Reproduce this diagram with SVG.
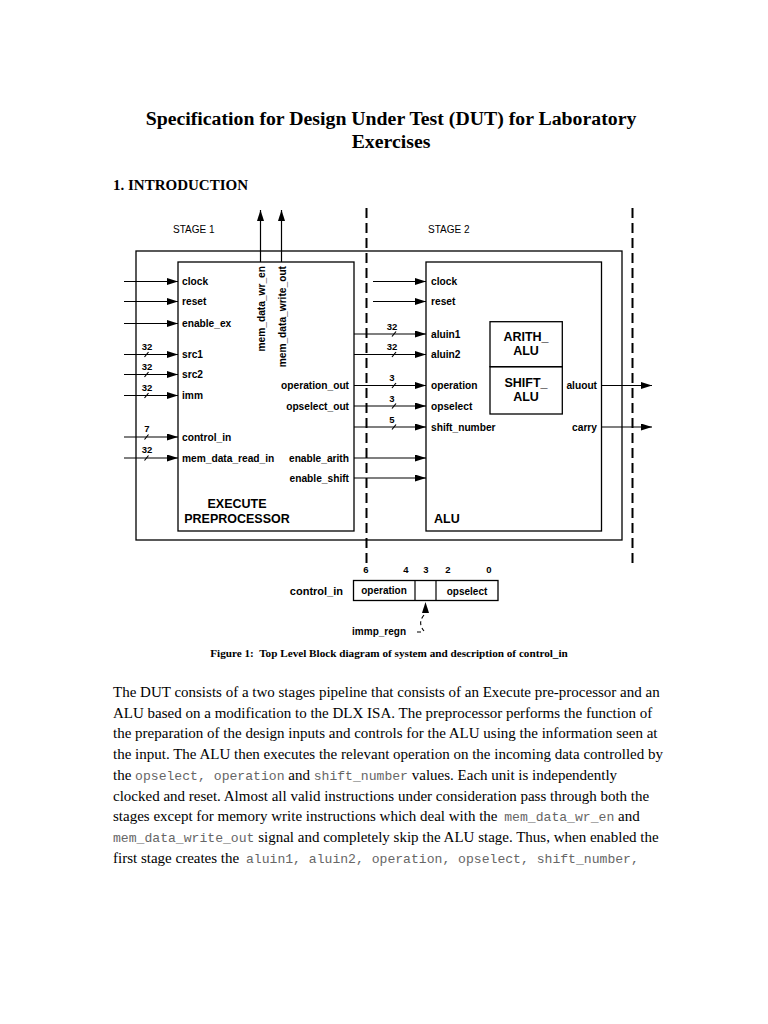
<svg xmlns="http://www.w3.org/2000/svg" width="768" height="1024" viewBox="0 0 768 1024">
<style>
.bg{fill:#fff}
.box{fill:none;stroke:#000;stroke-width:1.3}
.ln{stroke:#000;stroke-width:1.2;fill:none}
.dash{stroke:#000;stroke-width:2;stroke-dasharray:10 5;fill:none}
.lbl{font-family:"Liberation Sans",Arial,sans-serif;font-weight:bold;font-size:10.2px;fill:#000}
.big{font-family:"Liberation Sans",Arial,sans-serif;font-weight:bold;font-size:12.5px;fill:#000}
.stg{font-family:"Liberation Sans",Arial,sans-serif;font-size:10px;fill:#000}
.bus{font-family:"Liberation Sans",Arial,sans-serif;font-weight:bold;font-size:9.5px;fill:#000;text-anchor:middle}
.title{font-family:"Liberation Serif","Times New Roman",serif;font-weight:bold;font-size:19.8px;fill:#000;text-anchor:middle}
.h1{font-family:"Liberation Serif","Times New Roman",serif;font-weight:bold;font-size:15px;fill:#000}
.cap{font-family:"Liberation Serif","Times New Roman",serif;font-weight:bold;font-size:11.2px;fill:#000;text-anchor:middle}
.body{font-family:"Liberation Serif","Times New Roman",serif;font-size:15px;fill:#000}
.code{font-family:"Liberation Mono","Courier New",monospace;font-size:13.1px;fill:#666}
</style>
<defs>
<marker id="ah" markerUnits="userSpaceOnUse" markerWidth="11" markerHeight="7" refX="11" refY="3.5" orient="auto">
<path d="M0,0 L11,3.5 L0,7 z" fill="#000"/>
</marker>
</defs>
<rect class="bg" x="0" y="0" width="768" height="1024"/>

<g id="heading">
<text class="title" x="391" y="125">Specification for Design Under Test (DUT) for Laboratory</text>
<text class="title" x="391" y="148">Exercises</text>
<text class="h1" x="113" y="190">1. INTRODUCTION</text>
</g>

<g id="stage-labels">
<text class="stg" x="173" y="233">STAGE 1</text>
<text class="stg" x="428" y="233">STAGE 2</text>
</g>

<g id="outer-box">
<rect class="box" x="136" y="251" width="486" height="289"/>
</g>

<g id="execute-preprocessor">
<rect class="box" x="178" y="262" width="176" height="269"/>
<text class="lbl" x="182" y="285">clock</text>
<text class="lbl" x="182" y="305">reset</text>
<text class="lbl" x="182" y="327">enable_ex</text>
<text class="lbl" x="182" y="358">src1</text>
<text class="lbl" x="182" y="378">src2</text>
<text class="lbl" x="182" y="399">imm</text>
<text class="lbl" x="182" y="441">control_in</text>
<text class="lbl" x="182" y="462">mem_data_read_in</text>
<text class="lbl" x="349" y="389" text-anchor="end">operation_out</text>
<text class="lbl" x="349" y="410" text-anchor="end">opselect_out</text>
<text class="lbl" x="349" y="462" text-anchor="end">enable_arith</text>
<text class="lbl" x="349" y="482" text-anchor="end">enable_shift</text>
<text class="lbl" transform="translate(264.5,266) rotate(-90)" text-anchor="end">mem_data_wr_en</text>
<text class="lbl" transform="translate(285.5,266) rotate(-90)" text-anchor="end">mem_data_write_out</text>
<text class="big" x="237" y="508" text-anchor="middle">EXECUTE</text>
<text class="big" x="237" y="523" text-anchor="middle">PREPROCESSOR</text>
</g>

<g id="alu">
<rect class="box" x="426" y="262" width="175.5" height="269"/>
<text class="lbl" x="431" y="285">clock</text>
<text class="lbl" x="431" y="305">reset</text>
<text class="lbl" x="431" y="338">aluin1</text>
<text class="lbl" x="431" y="358">aluin2</text>
<text class="lbl" x="431" y="389">operation</text>
<text class="lbl" x="431" y="410">opselect</text>
<text class="lbl" x="431" y="431">shift_number</text>
<text class="lbl" x="597" y="389" text-anchor="end">aluout</text>
<text class="lbl" x="597" y="431" text-anchor="end">carry</text>
<text class="big" x="434" y="523">ALU</text>
</g>

<g id="arith-alu">
<rect class="box" x="490" y="321.7" width="72.3" height="45"/>
<text class="big" x="526" y="341" text-anchor="middle">ARITH_</text>
<text class="big" x="526" y="355" text-anchor="middle">ALU</text>
</g>

<g id="shift-alu">
<rect class="box" x="490" y="366.7" width="72.3" height="47.3"/>
<text class="big" x="526" y="386.5" text-anchor="middle">SHIFT_</text>
<text class="big" x="526" y="400.5" text-anchor="middle">ALU</text>
</g>

<g id="stage-dividers">
<line class="dash" x1="366.5" y1="208" x2="366.5" y2="563"/>
<line class="dash" x1="632.5" y1="208" x2="632.5" y2="563"/>
</g>

<g id="connectors">
<line class="ln" x1="124" y1="281.5" x2="178" y2="281.5" marker-end="url(#ah)"/>
<line class="ln" x1="124" y1="301.5" x2="178" y2="301.5" marker-end="url(#ah)"/>
<line class="ln" x1="124" y1="323.5" x2="178" y2="323.5" marker-end="url(#ah)"/>
<line class="ln" x1="124" y1="354.5" x2="178" y2="354.5" marker-end="url(#ah)"/>
<line class="ln" x1="124" y1="374.5" x2="178" y2="374.5" marker-end="url(#ah)"/>
<line class="ln" x1="124" y1="395.5" x2="178" y2="395.5" marker-end="url(#ah)"/>
<line class="ln" x1="124" y1="437" x2="178" y2="437" marker-end="url(#ah)"/>
<line class="ln" x1="124" y1="458" x2="178" y2="458" marker-end="url(#ah)"/>
<line class="ln" x1="260.5" y1="262" x2="260.5" y2="210" marker-end="url(#ah)"/>
<line class="ln" x1="281.5" y1="262" x2="281.5" y2="210" marker-end="url(#ah)"/>
<line class="ln" x1="373" y1="281.5" x2="426" y2="281.5" marker-end="url(#ah)"/>
<line class="ln" x1="373" y1="301.5" x2="426" y2="301.5" marker-end="url(#ah)"/>
<line class="ln" x1="354" y1="334" x2="426" y2="334" marker-end="url(#ah)"/>
<line class="ln" x1="354" y1="354.5" x2="426" y2="354.5" marker-end="url(#ah)"/>
<line class="ln" x1="354" y1="385.5" x2="426" y2="385.5" marker-end="url(#ah)"/>
<line class="ln" x1="354" y1="406" x2="426" y2="406" marker-end="url(#ah)"/>
<line class="ln" x1="354" y1="427" x2="426" y2="427" marker-end="url(#ah)"/>
<line class="ln" x1="354" y1="458" x2="426" y2="458" marker-end="url(#ah)"/>
<line class="ln" x1="354" y1="478" x2="426" y2="478" marker-end="url(#ah)"/>
<line class="ln" x1="601.5" y1="385.5" x2="652" y2="385.5" marker-end="url(#ah)"/>
<line class="ln" x1="601.5" y1="427" x2="652" y2="427" marker-end="url(#ah)"/>
</g>

<g id="bus-widths">
<path class="ln" d="M144.5,357 L148.5,352 M144.5,377 L148.5,372 M144.5,398 L148.5,393 M144.5,439.5 L148.5,434.5 M144.5,460.5 L148.5,455.5"/>
<text class="bus" x="147" y="350">32</text>
<text class="bus" x="147" y="370">32</text>
<text class="bus" x="147" y="391">32</text>
<text class="bus" x="147" y="432">7</text>
<text class="bus" x="147" y="453">32</text>
<path class="ln" d="M392,336.5 L396,331.5 M392,357 L396,352 M392,388 L396,383 M392,408.5 L396,403.5 M392,429.5 L396,424.5"/>
<text class="bus" x="392" y="330">32</text>
<text class="bus" x="392" y="350">32</text>
<text class="bus" x="392" y="381">3</text>
<text class="bus" x="392" y="402">3</text>
<text class="bus" x="392" y="423">5</text>
</g>

<g id="control-in-register">
<text class="lbl" x="343" y="594.5" text-anchor="end" style="font-size:11px">control_in</text>
<rect class="box" x="353.5" y="580.5" width="144.5" height="20"/>
<line class="ln" x1="415" y1="580.5" x2="415" y2="600.5"/>
<line class="ln" x1="436" y1="580.5" x2="436" y2="600.5"/>
<text class="lbl" x="384" y="594" text-anchor="middle" style="font-size:10px">operation</text>
<text class="lbl" x="467" y="594.5" text-anchor="middle" style="font-size:10px">opselect</text>
<text class="bus" x="366" y="573">6</text>
<text class="bus" x="406" y="573">4</text>
<text class="bus" x="426" y="573">3</text>
<text class="bus" x="448" y="573">2</text>
<text class="bus" x="489" y="573">0</text>
<path d="M425.5,602 L422,613 L429,613 z" fill="#000"/>
<path d="M424,615 C419,621 420,626 424,631 M421,632 L416,632" stroke="#000" stroke-width="1.1" fill="none" stroke-dasharray="4 3"/>
<text class="lbl" x="406" y="635" text-anchor="end" style="font-size:10px">immp_regn</text>
</g>

<g id="caption">
<text class="cap" x="389" y="657">Figure 1:&#160; Top Level Block diagram of system and description of control_in</text>
</g>

<g id="body-text">
<text class="body" x="113" y="696.5">The DUT consists of a two stages pipeline that consists of an Execute pre-processor and an</text>
<text class="body" x="113" y="717.5">ALU based on a modification to the DLX ISA. The preprocessor performs the function of</text>
<text class="body" x="113" y="738">the preparation of the design inputs and controls for the ALU using the information seen at</text>
<text class="body" x="113" y="759">the input. The ALU then executes the relevant operation on the incoming data controlled by</text>
<text class="body" x="113" y="779.5">the <tspan class="code">opselect,</tspan><tspan class="code" dx="8">operation</tspan> and <tspan class="code">shift_number</tspan> values. Each unit is independently</text>
<text class="body" x="113" y="800.5">clocked and reset. Almost all valid instructions under consideration pass through both the</text>
<text class="body" x="113" y="821">stages except for memory write instructions which deal with the <tspan class="code" dx="3">mem_data_wr_en</tspan> and</text>
<text class="body" x="113" y="842"><tspan class="code">mem_data_write_out</tspan> signal and completely skip the ALU stage. Thus, when enabled the</text>
<text class="body" x="113" y="863">first stage creates the <tspan class="code" dx="3">aluin1, aluin2, operation, opselect, shift_number,</tspan></text>
</g>
</svg>
